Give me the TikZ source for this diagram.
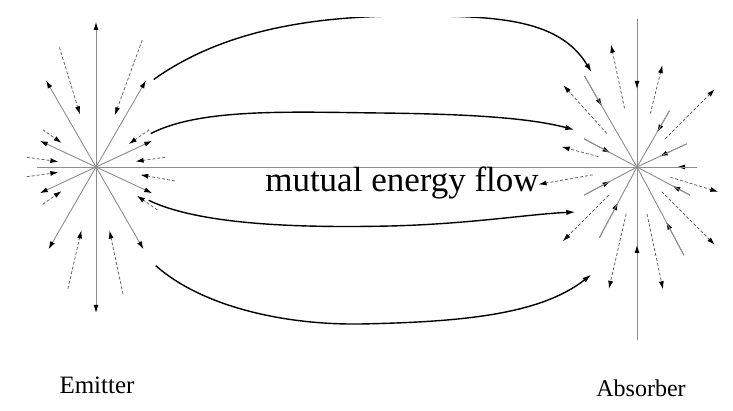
\documentclass[tikz,border=0pt]{standalone}
\usepackage{fontspec}
\setmainfont{Liberation Serif}
\usetikzlibrary{arrows.meta,calc}
\begin{document}
\begin{tikzpicture}[x=1pt,y=-1pt,
  ray/.style={draw=black!45,line width=0.9pt},
  sarr/.style={-{Latex[length=8pt,width=5pt,black]}},
  darr/.style={draw=black!60,densely dashed,line width=0.8pt,-{Latex[length=8pt,width=5pt,black]}},
  flow/.style={draw=black,line width=1.4pt,-{Latex[length=9pt,width=5.5pt]}}]
\useasboundingbox (0,0) rectangle (733,411);
\coordinate (E) at (96,167);
\coordinate (A) at (637,167);
% axes
\draw[ray] (37,167) -- (695,167);
\draw[ray,sarr] (E) -- ++(0,-145);
\draw[ray,sarr] (E) -- ++(0,146);
\draw[ray] (A) -- ++(0,-148);
\draw[ray] (A) -- ++(0,173);
% emitter solid outward
\foreach \a/\r in {60/95,120/95,240/100,300/100,25/62,155/62,205/62,335/62}
  \draw[ray,sarr] (E) -- ($(E)+(\a:\r)$);
% emitter dashed inward
\foreach \a/\ri/\ro in {78/65/130,103/65/125,253/55/125,290/55/135,35/50/75,145/42/65,215/42/65,325/40/65,10/45/80,172/38/70,188/38/70,352/40/70}
  \draw[darr] ($(E)+(\a:\ro)$) -- ($(E)+(\a:\ri)$);
% absorber solid inward
\foreach \a/\r/\rh in {90/148/78,270/148/78,62/100/62,118/80/40,240/105/70,300/65/40,28/60/40,152/60/30,208/60/30,335/55/25,0/60/40}
  \draw[ray,sarr] ($(A)+(\a:\r)$) -- ($(A)+(\a:\rh)$);
\foreach \a/\r in {62/100,118/80,240/105,300/65,28/60,152/60,208/60,335/55,0/60}
  \draw[ray] ($(A)+(\a:\r)$) -- (A);
% absorber dashed outward
\foreach \a/\ri/\ro in {78/48/125,103/48/125,258/60/125,284/55/105,45/35/110,135/40/105,228/45/110,315/40/110,17/35/85,170/45/100,195/40/78}
  \draw[darr] ($(A)+(\a:\ri)$) -- ($(A)+(\a:\ro)$);
% flows
\node[inner sep=0] (f1s) at (153,80) {};
\node[inner sep=0] (f1e) at (592,73) {};
\node[inner sep=0] (f2s) at (150,134) {};
\node[inner sep=0] (f2e) at (575,130) {};
\node[inner sep=0] (f3s) at (148,200) {};
\node[inner sep=0] (f3e) at (576,212) {};
\node[inner sep=0] (f4s) at (155,265) {};
\node[inner sep=0] (f4e) at (592,274) {};
\draw[flow] (f1s) .. controls (230,25) and (330,15) .. (420,16) .. controls (500,16) and (560,20) .. (f1e);
\draw[flow] (f2s) .. controls (200,108) and (290,112) .. (380,113) .. controls (470,114) and (530,118) .. (f2e);
\draw[flow] (f3s) .. controls (200,225) and (300,228) .. (390,226) .. controls (470,224) and (530,214) .. (f3e);
\draw[flow] (f4s) .. controls (200,305) and (280,325) .. (360,324) .. controls (460,322) and (540,315) .. (f4e);
\fill[white] (140,0) rectangle (600,17);
\node[font=\fontsize{35}{36}\selectfont,anchor=base] (lab) at (402,192) {mutual energy flow};
\node[font=\fontsize{25}{27}\selectfont,anchor=base] (em) at (97,393) {Emitter};
\node[font=\fontsize{24}{26}\selectfont,anchor=base] (ab) at (641,396) {Absorber};
\end{tikzpicture}
\end{document}
